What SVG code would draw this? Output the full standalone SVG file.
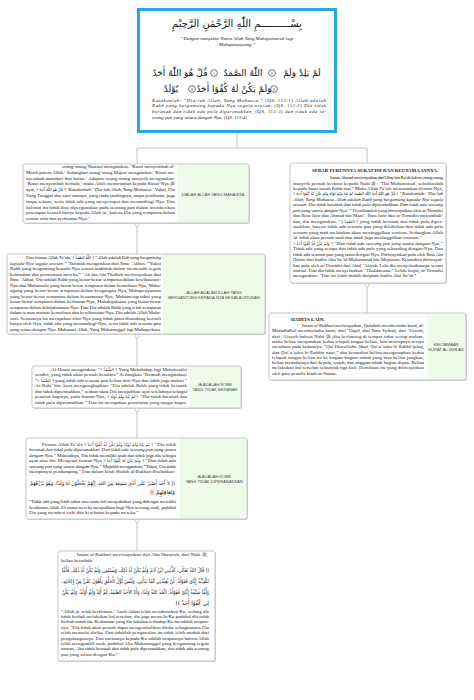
<svg xmlns="http://www.w3.org/2000/svg" width="474" height="700" viewBox="0 0 474 700">
<defs>
<style>
.t{font-family:"Liberation Serif","DejaVu Serif","DejaVu Sans",serif;font-size:4.9px;fill:#1a1a1a}
.i{font-style:italic}
.b{font-weight:bold}
.ar{font-family:"DejaVu Sans",sans-serif;fill:#111}
.ai{font-family:"DejaVu Sans",sans-serif;font-size:4px}
.lb{font-family:"Liberation Sans",Arial,sans-serif;font-size:4.1px;fill:#4a4a4a;text-anchor:middle}
.sh{fill:#d9d9d9}
.wh{fill:#fff}
.lab{fill:#eefbea}
.ol{fill:none;stroke:#b8b8b8;stroke-width:0.8}
.con line{stroke:#bfbfbf;stroke-width:0.9}
.con circle{fill:#fff;stroke:#bdbdbd;stroke-width:0.7}
.vm{fill:#fff;stroke:#222;stroke-width:0.6}
.vd{font-family:"DejaVu Sans",sans-serif;font-size:4px;fill:#111;text-anchor:middle}
</style>
</defs>
<rect width="474" height="700" fill="#fff"/>

<g id="connectors" class="con">
<line x1="237" y1="133" x2="237" y2="148"/>
<line x1="137" y1="148" x2="367" y2="148"/>
<line x1="137" y1="148" x2="137" y2="164"/>
<line x1="367" y1="148" x2="367" y2="163"/>
<line x1="137" y1="223" x2="137" y2="254"/>
<line x1="137" y1="334" x2="137" y2="366"/>
<line x1="137" y1="408" x2="137" y2="438"/>
<line x1="137" y1="519" x2="137" y2="551"/>
<line x1="367" y1="283" x2="367" y2="313"/>
<circle cx="137" cy="225" r="1.8"/>
<circle cx="137" cy="336" r="1.8"/>
<circle cx="137" cy="410" r="1.8"/>
<circle cx="137" cy="521" r="1.8"/>
<circle cx="367" cy="285" r="1.8"/>
</g>

<g id="n-top">
<rect x="138.5" y="9.5" width="197" height="122" fill="#fff" stroke="#27a8e0" stroke-width="3"/>
<text class="ar" x="237" y="27" font-size="10" text-anchor="middle">&#x202B;بِسْــــــــــمِ اللّٰهِ الرَّحْمٰنِ الرَّحِيْمِ&#x202C;</text>
<text class="t i" x="237" y="39.5" font-size="5" text-anchor="middle">“Dengan menyebut Nama Allah Yang Mahapemurah lagi</text>
<text class="t i" x="237" y="45.5" font-size="5" text-anchor="middle">Mahapenyayang.”</text>
<text class="ar" x="180" y="76" font-size="9" text-anchor="middle">قُلْ هُوَ اللّٰهُ أَحَدٌ</text>
<circle class="vm" cx="214" cy="73" r="3.4"/><text class="vd" x="214" y="74.5">١</text>
<text class="ar" x="243" y="76" font-size="9" text-anchor="middle">اللّٰهُ الصَّمَدُ</text>
<circle class="vm" cx="272" cy="73" r="3.4"/><text class="vd" x="272" y="74.5">٢</text>
<text class="ar" x="302" y="76" font-size="9" text-anchor="middle">لَمْ يَلِدْ وَلَمْ</text>
<text class="ar" x="171" y="92" font-size="9" text-anchor="middle">يُوْلَدْ</text>
<circle class="vm" cx="192" cy="89" r="3.4"/><text class="vd" x="192" y="90.5">٣</text>
<text class="ar" x="234" y="92" font-size="9" text-anchor="middle">وَلَمْ يَكُنْ لَهُ كُفُوًا أَحَدٌ</text>
<circle class="vm" cx="274" cy="89" r="3.4"/><text class="vd" x="274" y="90.5">٤</text>
<text class="t" x="152" y="101.5" font-size="5.2" textLength="174" fill="#000"><tspan class="i">Katakanlah: “Dia-lah Allah, Yang Mahaesa.”</tspan> (QS. 112:1) <tspan class="i">Allah adalah</tspan></text>
<text class="t" x="152" y="107.3" font-size="5.2" textLength="174"><tspan class="i">Rabb yang bergantung kepada-Nya segala urusan.</tspan> (QS. 112:2) <tspan class="i">Dia tidak</tspan></text>
<text class="t" x="152" y="113.1" font-size="5.2" textLength="174"><tspan class="i">beranak dan tidak ada pula diperanakkan,</tspan> (QS. 112:3) <tspan class="i">dan tidak ada se-</tspan></text>
<text class="t" x="152" y="118.9" font-size="5.2"><tspan class="i">orang pun yang setara dengan-Nya.</tspan> (QS. 112:4)</text>
</g>

<g id="n1">
<rect class="sh" x="24" y="165" width="226" height="59" rx="2"/>
<rect class="wh" x="23" y="164" width="226" height="59" rx="2"/>
<rect class="lab" x="178" y="164.4" width="70.6" height="58.2"/>
<rect class="ol" x="23" y="164" width="226" height="59" rx="2"/>
<text class="lb" x="213" y="195.5">DIALAH ALLAH YANG MAHA ESA</text>
<text class="t" x="62" y="168" textLength="113">orang-orang Nasrani mengatakan: ‘Kami menyembah al-</text>
<text class="t" x="26" y="173.8" textLength="149">Masih putera Allah.’ Sedangkan orang-orang Majusi mengatakan: ‘Kami me-</text>
<text class="t" x="26" y="179.6" textLength="149">nyembah matahari dan bulan.’ Adapun orang-orang musyrik mengatakan:</text>
<text class="t" x="26" y="185.4" textLength="149">‘Kami menyembah berhala,’ maka Allah menurunkan kepada Rasul-Nya <tspan class="ai">ﷺ</tspan></text>
<text class="t" x="26" y="191.2" textLength="149">ayat, <tspan class="ai">﴿ قُلْ هُوَ اللّٰهُ أَحَدٌ ﴾</tspan> <tspan class="i">‘Katakanlah: ‘Dia-lah Allah, Yang Mahaesa.’</tspan> Yakni, Dia</text>
<text class="t" x="26" y="197" textLength="149">Yang Tunggal dan satu-satunya, yang tiada tandingnya, tanpa pembantu, juga</text>
<text class="t" x="26" y="202.8" textLength="149">tanpa sekutu, serta tidak ada yang menyerupai dan menandingi-Nya. Dan</text>
<text class="t" x="26" y="208.6" textLength="149">kalimat itu tidak bisa dipergunakan pada seorang pun dalam memberikan</text>
<text class="t" x="26" y="214.4" textLength="149">penetapan kecuali hanya kepada Allah <tspan class="ai">ﷻ</tspan>, karena Dia yang sempurna dalam</text>
<text class="t" x="26" y="220.2">semua sifat dan perbuatan-Nya.’</text>
</g>

<g id="n2">
<rect class="sh" x="8" y="255" width="258" height="80" rx="2"/>
<rect class="wh" x="7" y="254" width="258" height="80" rx="2"/>
<rect class="lab" x="163" y="254.4" width="101.6" height="79.2"/>
<rect class="ol" x="7" y="254" width="258" height="80" rx="2"/>
<text class="lb" x="214" y="293.5">ALLAH ADALAH ILLAH YANG</text>
<text class="lb" x="214" y="298.5">BERGANTUNG KEPADA-NYA SEGALA URUSAN</text>
<text class="t" x="26" y="259" textLength="135">Dan firman Allah Ta’ala, <tspan class="ai">﴿ اللّٰهُ الصَّمَدُ ﴾</tspan> <tspan class="i">“Allah adalah Ilah yang bergantung</tspan></text>
<text class="t" x="10" y="264.5" textLength="151"><tspan class="i">kepada-Nya segala urusan.”</tspan> ‘Ikrimah mengatakan dari Ibnu ‘Abbas: “Yakni</text>
<text class="t" x="10" y="270" textLength="151">Rabb yang bergantung kepada-Nya semua makhluk dalam memenuhi segala</text>
<text class="t" x="10" y="275.5" textLength="151">kebutuhan dan permintaan mereka.” ‘Ali bin Abi Thalhah meriwayatkan dari</text>
<text class="t" x="10" y="281" textLength="151">Ibnu ‘Abbas, Dia adalah Rabb yang benar-benar sempurna dalam kewibawaan-</text>
<text class="t" x="10" y="286.5" textLength="151">Nya dan Mahamulia yang benar-benar sempurna dalam kemuliaan-Nya, Maha-</text>
<text class="t" x="10" y="292" textLength="151">agung yang benar-benar sempurna dalam keagungan-Nya, Mahapenyantun</text>
<text class="t" x="10" y="297.5" textLength="151">yang benar-benar sempurna dalam kesantunan-Nya, Mahamengetahui yang</text>
<text class="t" x="10" y="303" textLength="151">benar-benar sempurna dalam keilmuan-Nya, Mahabijaksana yang benar-benar</text>
<text class="t" x="10" y="308.5" textLength="151">sempurna dalam kebijaksanaan-Nya. Dan Dia adalah Rabb yang telah sempurna</text>
<text class="t" x="10" y="314" textLength="151">dalam semua macam kemuliaan dan kewibawaan-Nya. Dia adalah Allah Maha-</text>
<text class="t" x="10" y="319.5" textLength="151">suci. Semuanya itu merupakan sifat-Nya yang tidak patut disandang kecuali</text>
<text class="t" x="10" y="325" textLength="151">hanya oleh-Nya, tidak ada yang menandingi-Nya, serta tidak ada sesuatu pun</text>
<text class="t" x="10" y="330.5" textLength="151">yang setara dengan-Nya. Mahasuci Allah, Yang Mahatunggal lagi Mahaperkasa.</text>
</g>

<g id="n3">
<rect class="sh" x="33" y="367" width="209" height="42" rx="2"/>
<rect class="wh" x="32" y="366" width="209" height="42" rx="2"/>
<rect class="lab" x="190" y="366.4" width="50.6" height="41.2"/>
<rect class="ol" x="32" y="366" width="209" height="42" rx="2"/>
<text class="lb" x="215" y="385.5">IA ADALAH ROBB</text>
<text class="lb" x="215" y="390.5">YANG TIDAK BERANAK</text>
<text class="t" x="51" y="370.5" textLength="136">Al-Hasan mengatakan: “<tspan class="ai">﴿ الصَّمَدُ ﴾</tspan> Yang Mahahidup lagi Mahaberdiri</text>
<text class="t" x="35" y="376" textLength="152">sendiri, yang tidak akan pernah berakhir.” Sedangkan ‘Ikrimah mengatakan:</text>
<text class="t" x="35" y="381.5" textLength="152">“<tspan class="ai">﴿ الصَّمَدُ ﴾</tspan> yang tidak ada sesuatu pun keluar dari-Nya dan tidak juga makan.”</text>
<text class="t" x="35" y="387" textLength="152">Ar-Rabi’ bin Anas mengungkapkan: “Dia adalah Rabb yang tidak beranak</text>
<text class="t" x="35" y="392.5" textLength="152">dan tidak diperanakkan,” seakan-akan Dia menjadikan ayat setelahnya sebagai</text>
<text class="t" x="35" y="398" textLength="152">penafsir baginya, yaitu firman-Nya, <tspan class="ai">﴿ لَمْ يَلِدْ وَلَمْ يُوْلَدْ ﴾</tspan> <tspan class="i">“Dia tidak beranak dan</tspan></text>
<text class="t" x="35" y="403.5" textLength="152"><tspan class="i">tidak pula diperanakkan.”</tspan> Dan itu merupakan penafsiran yang sangat bagus.</text>
</g>

<g id="n4">
<rect class="sh" x="27" y="439" width="221" height="81" rx="2"/>
<rect class="wh" x="26" y="438" width="221" height="81" rx="2"/>
<rect class="lab" x="180" y="438.4" width="66.6" height="80.2"/>
<rect class="ol" x="26" y="438" width="221" height="81" rx="2"/>
<text class="lb" x="214" y="477.5">IA ADALAH ROBB</text>
<text class="lb" x="214" y="482.5">YANG TIDAK DIPERANAKKAN</text>
<text class="t" x="42" y="445.5" textLength="134">Firman Allah Ta’ala <tspan class="ai">﴿ لَمْ يَلِدْ وَلَمْ يُوْلَدْ وَلَمْ يَكُنْ لَهُ كُفُوًا أَحَدٌ ﴾</tspan> <tspan class="i">“Dia tidak</tspan></text>
<text class="t i" x="29" y="451" textLength="147">beranak dan tidak pula diperanakkan. Dan tidak ada seorang pun yang setara</text>
<text class="t" x="29" y="456.5" textLength="147"><tspan class="i">dengan-Nya.”</tspan> Maksudnya, Dia tidak memiliki anak dan tidak juga dia sebagai</text>
<text class="t" x="29" y="462" textLength="147">ayah atau ibu. Mengenai firman-Nya <tspan class="ai">﴿ وَلَمْ يَكُنْ لَهُ كُفُوًا أَحَدٌ ﴾</tspan> <tspan class="i">“Dan tidak ada</tspan></text>
<text class="t" x="29" y="467.5" textLength="147"><tspan class="i">seorang pun yang setara dengan-Nya.”</tspan> Mujahid mengatakan: “Yakni, Dia tidak</text>
<text class="t" x="29" y="473">mempunyai pendamping.” Dan dalam kitab Shahih al-Bukhari disebutkan:</text>
<text class="ar" x="30" y="485" font-size="5" textLength="145" lengthAdjust="spacingAndGlyphs">&#x202B;(( لاَ أَحَدَ أَصْبَرُ عَلَى أَذًى سَمِعَهُ مِنَ اللهِ، إِنَّهُمْ يَجْعَلُوْنَ لَهُ وَلَدًا، وَهُوَ يَرْزُقُهُمْ&#x202C;</text>
<text class="ar" x="175" y="494" font-size="5.5" text-anchor="end">&#x202B;وَيُعَافِيْهِمْ ))&#x202C;</text>
<text class="t" x="29" y="503" textLength="147">“Tidak ada yang lebih sabar atas suatu hal menyakitkan yang didengar melebihi</text>
<text class="t" x="29" y="508.5" textLength="147">kesabaran Allah. Di mana mereka menjadikan bagi-Nya seorang anak, padahal</text>
<text class="t" x="29" y="514">Dia yang memberi rizki dan kesehatan kepada mereka.”</text>
</g>

<g id="n5">
<rect class="sh" x="59" y="552" width="157" height="110" rx="2"/>
<rect class="wh" x="58" y="551" width="157" height="110" rx="2"/>
<rect class="ol" x="58" y="551" width="157" height="110" rx="2"/>
<text class="t" x="77" y="556" textLength="131">Imam al-Bukhari meriwayatkan dari Abu Hurairah, dari Nabi <tspan class="ai">ﷺ</tspan>,</text>
<text class="t" x="61" y="561.5">beliau bersabda:</text>
<text class="ar" x="62" y="571.5" font-size="5.5" textLength="147" lengthAdjust="spacingAndGlyphs">&#x202B;(( قَالَ اللهُ تَعَالَى: كَذَّبَنِي ابْنُ آدَمَ وَلَمْ يَكُنْ لَهُ ذَلِكَ، وَشَتَمَنِي وَلَمْ يَكُنْ لَهُ ذَلِكَ، فَأَمَّا&#x202C;</text>
<text class="ar" x="62" y="582.5" font-size="5.5" textLength="147" lengthAdjust="spacingAndGlyphs">&#x202B;تَكْذِيْبُهُ إِيَّايَ فَقَوْلُهُ: لَنْ يُعِيْدَنِي كَمَا بَدَأَنِي، وَلَيْسَ أَوَّلُ الْخَلْقِ بِأَهْوَنَ عَلَيَّ مِنْ إِعَادَتِهِ،&#x202C;</text>
<text class="ar" x="62" y="593.5" font-size="5.5" textLength="147" lengthAdjust="spacingAndGlyphs">&#x202B;وَأَمَّا شَتْمُهُ إِيَّايَ فَقَوْلُهُ: اتَّخَذَ اللهُ وَلَدًا، وَأَنَا الأَحَدُ الصَّمَدُ، لَمْ أَلِدْ وَلَمْ أُوْلَدْ، وَلَمْ يَكُنْ&#x202C;</text>
<text class="ar" x="209" y="604.5" font-size="5.5" text-anchor="end">&#x202B;لِي كُفُوًا أَحَدٌ ))&#x202C;</text>
<text class="t" x="61" y="612.5" textLength="148">“Allah <tspan class="ai">ﷻ</tspan> telah berfirman: ‘Anak Adam telah mendustakan-Ku, sedang dia</text>
<text class="t" x="61" y="617.9" textLength="148">tidak berhak melakukan hal tersebut, dia juga mencela-Ku padahal dia tidak</text>
<text class="t" x="61" y="623.3" textLength="148">berhak untuk itu. Kedustaan yang dia lakukan terhadap-Ku itu adalah ucapan-</text>
<text class="t" x="61" y="628.7" textLength="148">nya, ‘Dia tidak akan pernah dapat mengembalikan diriku sebagaimana Dia</text>
<text class="t" x="61" y="634.1" textLength="148">telah memulai diriku. Dan tidaklah pengawalan itu tidak lebih mudah dari</text>
<text class="t" x="61" y="639.5" textLength="148">pengulangannya. Dan caciannya kepada-Ku adalah ucapannya bahwa Allah</text>
<text class="t" x="61" y="644.9" textLength="148">telah mengambil anak, padahal Aku Mahatunggal yang bergantung segala</text>
<text class="t" x="61" y="650.3" textLength="148">urusan, Aku tidak beranak dan tidak pula diperanakkan, dan tidak ada seorang</text>
<text class="t" x="61" y="655.7">pun yang setara dengan-Ku.”</text>
</g>

<g id="n-sebab">
<rect class="sh" x="291" y="164" width="156" height="120" rx="2"/>
<rect class="wh" x="290" y="163" width="156" height="120" rx="2"/>
<rect class="ol" x="290" y="163" width="156" height="120" rx="2"/>
<text class="t b" x="312" y="172" textLength="126">SEBAB TURUNNYA SURAT INI DAN KEUTAMAANNYA.</text>
<text class="t" x="330" y="179" textLength="113">Imam Ahmad meriwayatkan dari Ubay bin Ka’ab bahwa orang-orang</text>
<text class="t" x="293" y="184.5" textLength="150">musyrik pernah berkata kepada Nabi <tspan class="ai">ﷺ</tspan>: “Hai Muhammad, sebutkanlah</text>
<text class="t" x="293" y="190" textLength="150">kepada kami nasab Rabb-mu.” Maka Allah Ta’ala menurunkan firman-Nya,</text>
<text class="t" x="293" y="195.4" textLength="150"><tspan class="ai" font-size="3.3">﴿ قُلْ هُوَ اللّٰهُ أَحَدٌ اللّٰهُ الصَّمَدُ لَمْ يَلِدْ وَلَمْ يُوْلَدْ وَلَمْ يَكُنْ لَهُ كُفُوًا أَحَدٌ ﴾</tspan> <tspan class="i">“Katakanlah: ‘Dia-lah</tspan></text>
<text class="t i" x="293" y="200.9" textLength="150">Allah, Yang Mahaesa. Allah adalah Rabb yang bergantung kepada-Nya segala</text>
<text class="t i" x="293" y="206.4" textLength="150">urusan. Dia tidak beranak dan tidak pula diperanakkan. Dan tidak ada seorang</text>
<text class="t" x="293" y="211.8" textLength="150"><tspan class="i">pun yang setara dengan-Nya.’”</tspan> Demikianlah yang diriwayatkan oleh at-Tirmidzi</text>
<text class="t" x="293" y="217.3" textLength="150">dan Ibnu Jarir dan Ahmad bin Mani’. Ibnu Jarir dan at-Tirmidzi menambah-</text>
<text class="t" x="293" y="222.8" textLength="150">kan, dia mengatakan: “<tspan class="ai">﴿ الصَّمَدُ ﴾</tspan> yang tidak beranak dan tidak pula diper-</text>
<text class="t" x="293" y="228.2" textLength="150">anakkan, karena tidak ada sesuatu pun yang dilahirkan dan tidak ada pula</text>
<text class="t" x="293" y="233.7" textLength="150">sesuatu yang mati melainkan akan meninggalkan warisan. Sedangkan Allah</text>
<text class="t" x="293" y="239.2"><tspan class="ai">ﷻ</tspan> tidak akan pernah mati dan tidak juga meninggalkan warisan.”</text>
<text class="t" x="293" y="244.6" textLength="150"><tspan class="ai">﴿ وَلَمْ يَكُنْ لَهُ كُفُوًا أَحَدٌ ﴾</tspan> <tspan class="i">“Dan tidak ada seorang pun yang setara dengan-Nya.”</tspan></text>
<text class="t" x="293" y="250.1" textLength="150">Tidak ada yang serupa dan tidak ada pula yang sebanding dengan-Nya. Dan</text>
<text class="t" x="293" y="255.6" textLength="150">tidak ada sesuatu pun yang sama dengan-Nya. Diriwayatkan pula oleh Ibnu Abi</text>
<text class="t" x="293" y="261" textLength="150">Hatim dari hadits Abu Sa’id Muhammad bin Muyassar. Kemudian diriwayat-</text>
<text class="t" x="293" y="266.5" textLength="150">kan pula oleh at-Tirmidzi dari Abul ‘Aliyah. Lalu dia menyebutkannya secara</text>
<text class="t" x="293" y="272" textLength="150">mursal. Dan dia tidak menyebutkan: “<tspan class="i">Haddatsana</tspan>.” Lebih lanjut, at-Tirmidzi</text>
<text class="t" x="293" y="277.4">mengatakan: “Dan ini lebih shahih daripada hadits Abu Sa’id.”</text>
</g>

<g id="n-hadits">
<rect class="sh" x="270" y="314" width="197" height="67" rx="2"/>
<rect class="wh" x="269" y="313" width="197" height="67" rx="2"/>
<rect class="lab" x="427" y="313.4" width="38.6" height="66.2"/>
<rect class="ol" x="269" y="313" width="197" height="67" rx="2"/>
<text class="lb" x="446" y="345.5">KEUTAMAAN</text>
<text class="lb" x="446" y="350.5">SURAT AL-IKHLAS</text>
<text class="t b" x="291" y="321">HADITS LAIN.</text>
<text class="t" x="302" y="327" textLength="122">Imam al-Bukhari meriwayatkan, Qutaibah memberitahu kami, al-</text>
<text class="t" x="272" y="332.3" textLength="152">Mufadhdhal memberitahu kami, dari ‘Uqail, dari Ibnu Syihab, dari ‘Urwah,</text>
<text class="t" x="272" y="337.6" textLength="152">dari ‘Aisyah bahwa Nabi <tspan class="ai">ﷺ</tspan> jika berbaring di tempat tidur setiap malam,</text>
<text class="t" x="272" y="342.9" textLength="152">maka beliau menyatukan kedua telapak tangan beliau, lalu meniupnya seraya</text>
<text class="t" x="272" y="348.2" textLength="152">membaca pada keduanya: “<tspan class="i">Qul Huwallahu Ahad, Qul a’udzu bi Rabbil falaq,</tspan></text>
<text class="t" x="272" y="353.5" textLength="152"><tspan class="i">dan Qul a’udzu bi Rabbin naas</tspan>,” dan kemudian beliau mengusapkan kedua</text>
<text class="t" x="272" y="358.8" textLength="152">telapak tangan beliau itu ke bagian-bagian tubuh yang bisa beliau jangkau,</text>
<text class="t" x="272" y="364.1" textLength="152">beliau memulainya dari kepala, wajah, dan anggota tubuh bagian depan. Beliau</text>
<text class="t" x="272" y="369.4" textLength="152">melakukan hal tersebut sebanyak tiga kali. Demikian itu yang diriwayatkan</text>
<text class="t" x="272" y="374.7">oleh para penulis kitab as-Sunan.</text>
</g>
</svg>
